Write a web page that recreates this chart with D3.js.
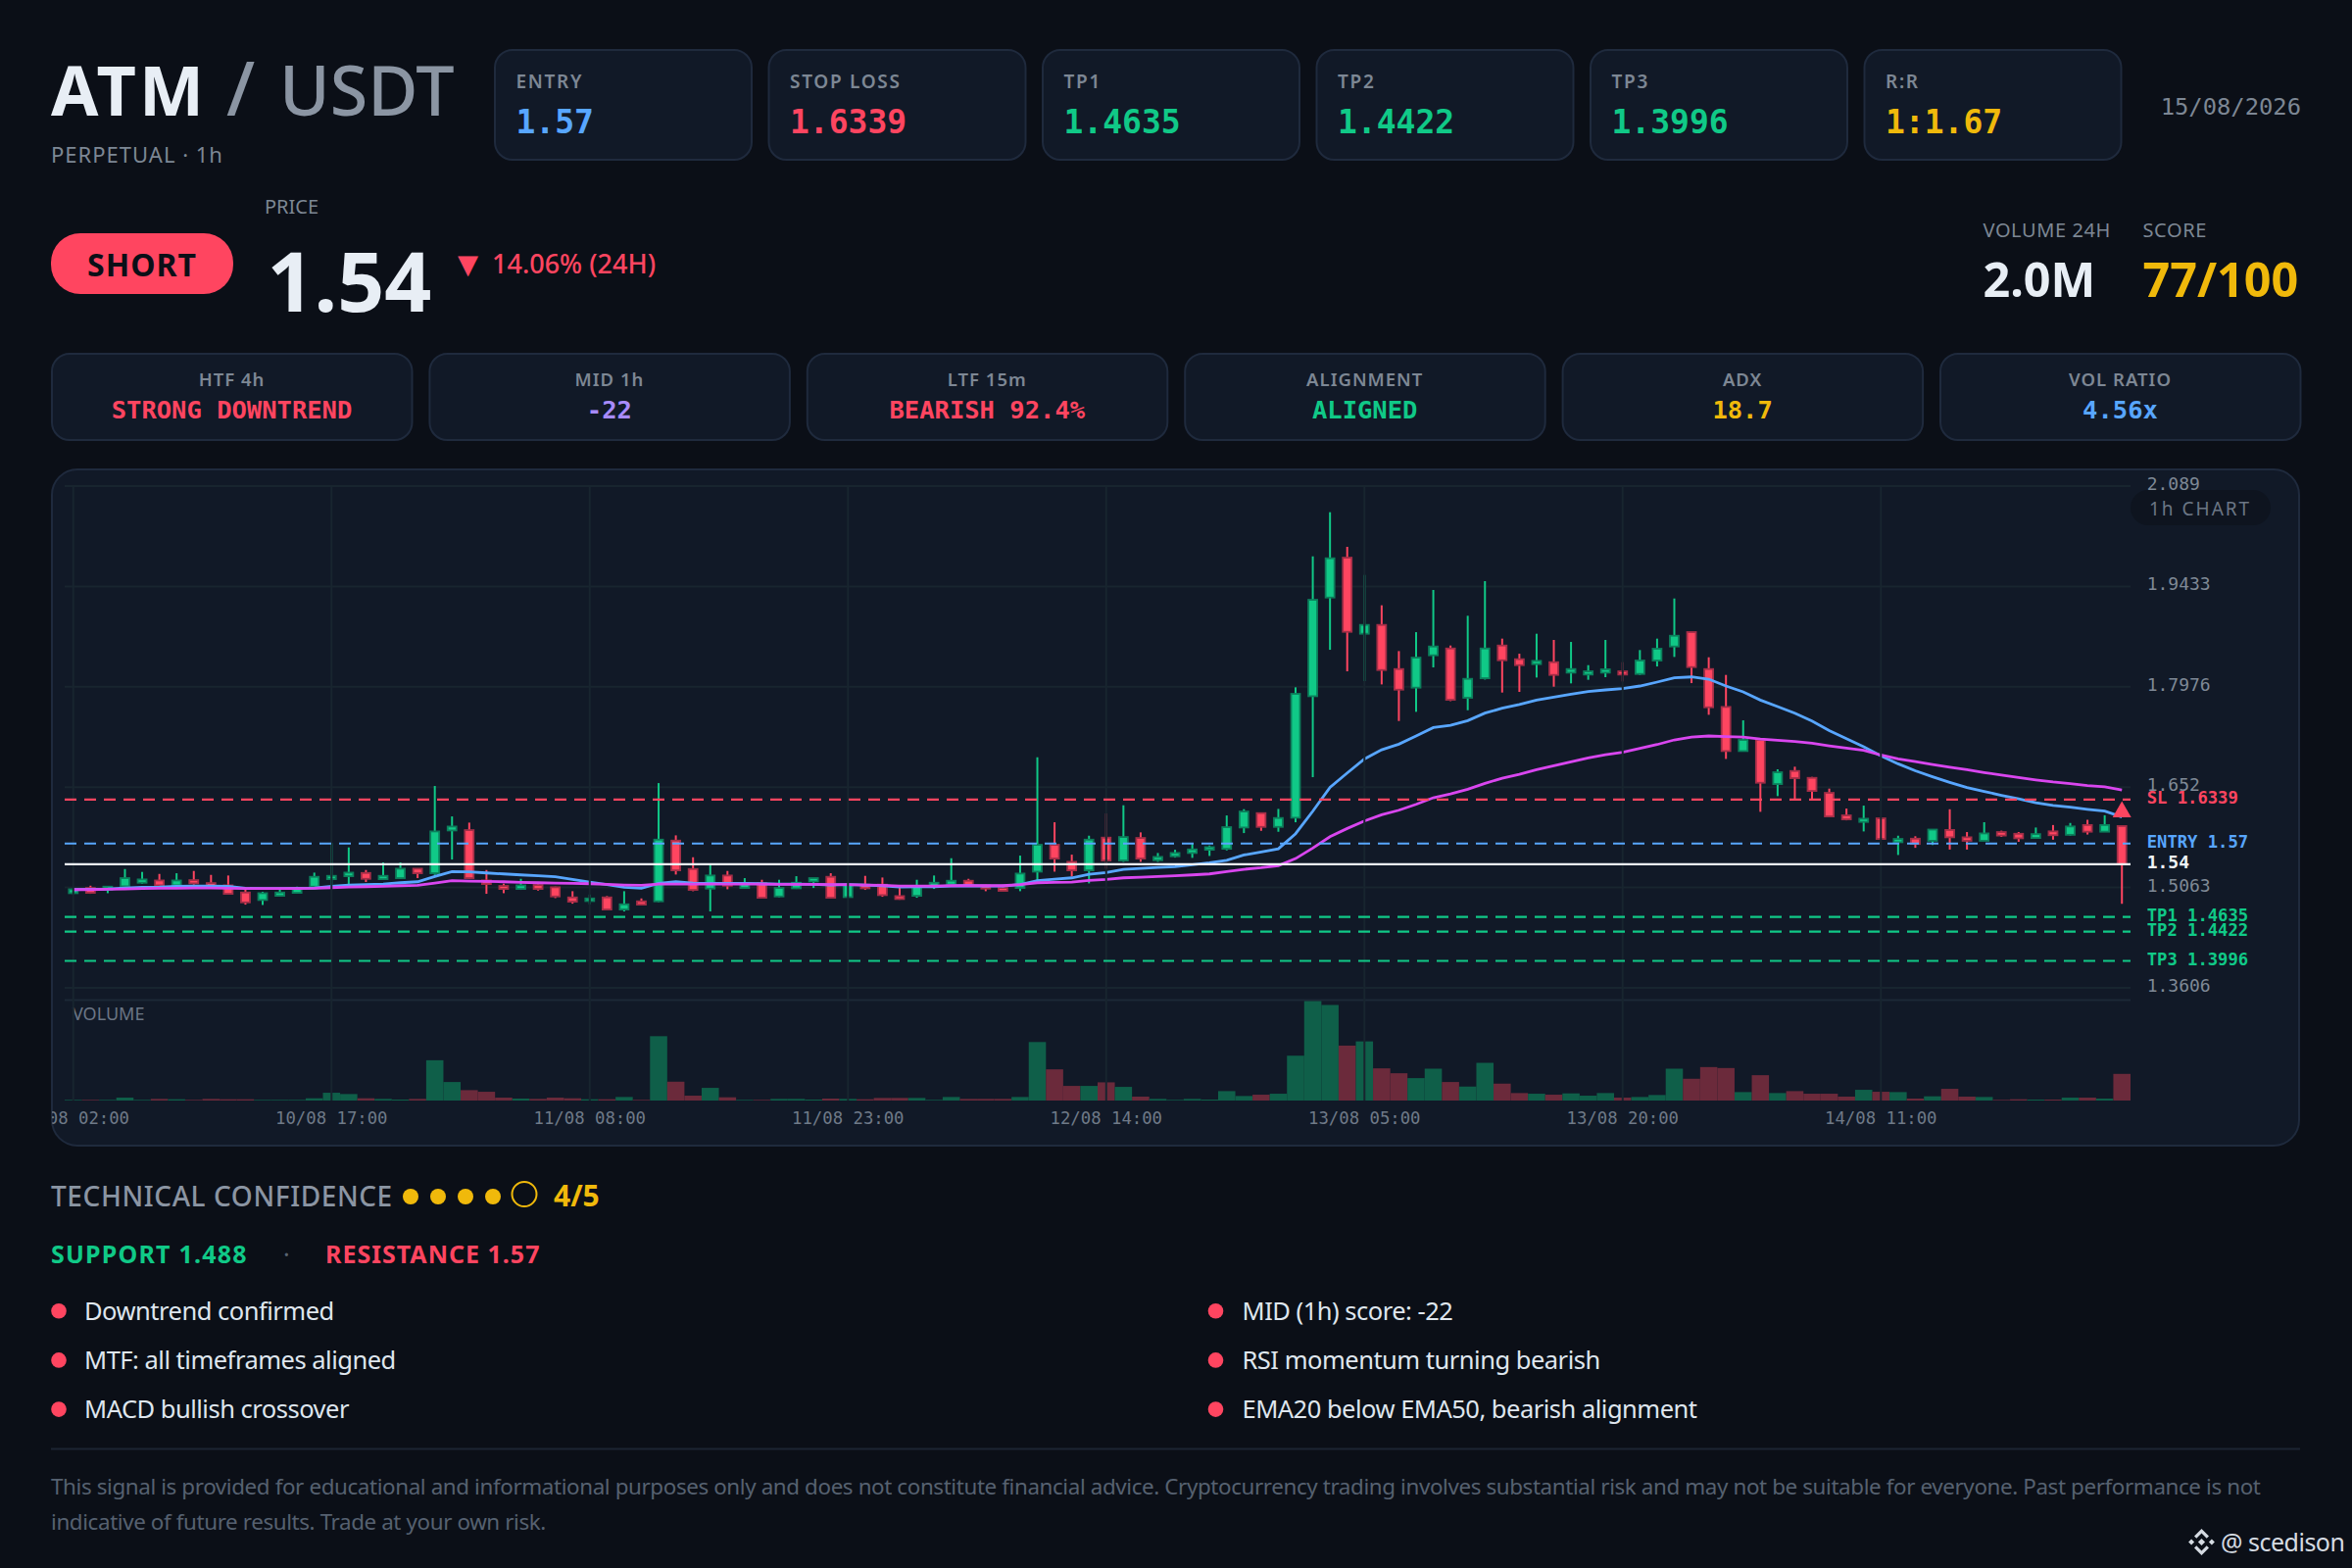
<!DOCTYPE html>
<html>
<head>
<meta charset="utf-8">
<title>ATM / USDT</title>
<script src="https://cdn.jsdelivr.net/npm/d3@7"></script>
<style>
  html, body { margin: 0; padding: 0; background: #0b0f17; }
  svg { display: block; }
</style>
</head>
<body>
<svg id="chart"></svg>
<script>
let opens = [1.4979,1.5055,1.5031,1.5079,1.5131,1.5164,1.5093,1.5169,1.5126,1.5093,1.4989,1.4880,1.4941,1.4984,1.5074,1.5183,1.5226,1.5273,1.5183,1.5198,
  1.5335,1.5269,1.5890,1.5895,1.5164,1.5084,1.5041,1.5098,1.5065,1.4918,1.4865,1.4918,1.4742,1.4861,1.4861,1.5743,1.5330,1.5046,1.5236,1.5055,
  1.5126,1.4932,1.5050,1.5150,1.5217,1.4922,1.5103,1.5103,1.4937,1.4941,1.5074,1.5103,1.5160,1.5093,1.5055,1.5055,1.5292,1.5682,1.5435,1.5311,
  1.5786,1.5454,1.5781,1.5458,1.5515,1.5563,1.5610,1.5624,1.5933,1.6142,1.5942,1.6075,1.7840,1.9273,1.9852,1.8747,1.8875,1.8234,1.7964,1.8434,
  1.8533,1.7817,1.8101,1.8576,1.8377,1.8306,1.8334,1.8182,1.8154,1.8182,1.8201,1.8163,1.8358,1.8562,1.8771,1.8234,1.7684,1.7043,1.7205,1.6564,
  1.6754,1.6654,1.6436,1.6109,1.6014,1.6066,1.5719,1.5771,1.5740,1.5897,1.5791,1.5740,1.5867,1.5842,1.5781,1.5877,1.5827,1.5969,1.5872,1.5954];
let highs = [1.5055,1.5088,1.5084,1.5330,1.5288,1.5259,1.5269,1.5302,1.5245,1.5236,1.5031,1.5000,1.5055,1.5074,1.5278,1.5710,1.5644,1.5316,1.5425,1.5425,
  1.5335,1.6536,1.6094,1.6004,1.5316,1.5117,1.5188,1.5122,1.5074,1.5008,1.4960,1.4937,1.5008,1.4903,1.6578,1.5819,1.5501,1.5397,1.5302,1.5198,
  1.5174,1.5174,1.5226,1.5198,1.5269,1.5112,1.5231,1.5207,1.5055,1.5174,1.5236,1.5487,1.5188,1.5103,1.5103,1.5525,1.6953,1.6009,1.5539,1.5814,
  1.6137,1.6256,1.5862,1.5563,1.5610,1.5696,1.5672,1.6108,1.6199,1.6142,1.6203,1.7969,1.9871,2.0512,2.0009,1.9601,1.9160,1.8495,1.8770,1.9383,
  1.8576,1.9008,1.9511,1.8676,1.8457,1.8747,1.8657,1.8628,1.8291,1.8657,1.8334,1.8510,1.8676,1.9259,1.8771,1.8405,1.8149,1.7489,1.7205,1.6778,
  1.6816,1.6668,1.6498,1.6208,1.6251,1.6066,1.5814,1.5806,1.5903,1.6198,1.5867,1.6010,1.5887,1.5867,1.5933,1.5969,1.5999,1.6045,1.6111,1.5954];
let lows = [1.4960,1.4970,1.4979,1.5055,1.5117,1.5079,1.5079,1.5103,1.5055,1.4970,1.4813,1.4808,1.4937,1.4979,1.5055,1.5055,1.5103,1.5141,1.5174,1.5188,
  1.5198,1.5245,1.5468,1.5188,1.4970,1.4979,1.5027,1.5017,1.4908,1.4827,1.4818,1.4742,1.4714,1.4813,1.4851,1.5250,1.5008,1.4714,1.5036,1.5046,
  1.4913,1.4922,1.5041,1.5055,1.4913,1.4913,1.5027,1.4927,1.4884,1.4913,1.5041,1.5093,1.5074,1.5008,1.5013,1.5008,1.5150,1.5292,1.5221,1.5122,
  1.5335,1.5435,1.5435,1.5435,1.5496,1.5492,1.5520,1.5601,1.5852,1.5885,1.5871,1.6009,1.6664,1.8514,1.8201,1.8059,1.8011,1.7480,1.7613,1.8258,
  1.7769,1.7636,1.8082,1.7893,1.7902,1.8111,1.7978,1.8026,1.8078,1.8116,1.8054,1.8149,1.8272,1.8410,1.8030,1.7570,1.6929,1.7039,1.6161,1.6389,
  1.6346,1.6346,1.6094,1.6037,1.5876,1.5767,1.5534,1.5638,1.5679,1.5613,1.5613,1.5740,1.5796,1.5725,1.5781,1.5756,1.5816,1.5831,1.5872,1.4825];
let closes = [1.5036,1.4984,1.5074,1.5198,1.5179,1.5093,1.5164,1.5122,1.5074,1.4970,1.4846,1.4979,1.4989,1.5055,1.5217,1.5231,1.5278,1.5188,1.5231,1.5335,
  1.5269,1.5876,1.5947,1.5198,1.5112,1.5041,1.5093,1.5041,1.4932,1.4856,1.4903,1.4742,1.4818,1.4813,1.5757,1.5311,1.5027,1.5236,1.5088,1.5126,
  1.4913,1.5055,1.5131,1.5198,1.4913,1.5103,1.5050,1.4951,1.4894,1.5074,1.5131,1.5160,1.5084,1.5046,1.5013,1.5264,1.5682,1.5482,1.5311,1.5757,
  1.5454,1.5795,1.5482,1.5506,1.5563,1.5615,1.5648,1.5938,1.6165,1.5942,1.6071,1.7874,1.9240,1.9843,1.8775,1.8875,1.8220,1.7935,1.8400,1.8562,
  1.7788,1.8092,1.8533,1.8362,1.8291,1.8353,1.8149,1.8234,1.8201,1.8230,1.8154,1.8358,1.8529,1.8718,1.8263,1.7679,1.7043,1.7205,1.6583,1.6735,
  1.6650,1.6464,1.6094,1.6052,1.6061,1.5767,1.5767,1.5694,1.5903,1.5791,1.5740,1.5847,1.5816,1.5776,1.5837,1.5821,1.5948,1.5872,1.5969,1.5400];
let volumes = [2,2,2,9,2,5,4,2,5,4,4,2,2,2,7,24,20,7,5,3,
  5,124,57,32,27,9,6,5,9,7,4,4,11,2,198,58,15,39,10,2,
  2,5,5,3,6,5,4,8,8,8,2,11,5,5,5,11,180,96,45,45,
  56,42,12,5,2,5,3,29,14,18,21,138,306,294,169,182,99,84,69,98,
  57,43,116,52,23,21,18,22,15,23,9,11,17,98,67,103,100,26,78,23,
  29,21,21,12,33,27,26,6,13,36,12,11,2,4,3,3,9,9,6,82];
let ema20 = [1.5031,1.5036,1.5041,1.5055,1.5065,1.5069,1.5079,1.5084,1.5084,1.5079,1.5050,1.5046,1.5046,1.5050,1.5055,1.5079,1.5098,1.5103,1.5112,1.5131,
  1.5145,1.5221,1.5292,1.5288,1.5273,1.5259,1.5245,1.5231,1.5217,1.5179,1.5141,1.5103,1.5065,1.5050,1.5122,1.5145,1.5126,1.5122,1.5122,1.5122,
  1.5117,1.5112,1.5112,1.5107,1.5098,1.5103,1.5098,1.5088,1.5069,1.5074,1.5074,1.5084,1.5088,1.5084,1.5084,1.5103,1.5160,1.5183,1.5202,1.5254,
  1.5278,1.5326,1.5340,1.5354,1.5364,1.5392,1.5420,1.5458,1.5534,1.5577,1.5624,1.5843,1.6170,1.6517,1.6725,1.6929,1.7062,1.7143,1.7262,1.7385,
  1.7418,1.7485,1.7594,1.7665,1.7720,1.7784,1.7826,1.7869,1.7907,1.7931,1.7950,1.7988,1.8045,1.8106,1.8120,1.8087,1.7988,1.7902,1.7784,1.7689,
  1.7594,1.7480,1.7342,1.7224,1.7105,1.6975,1.6858,1.6757,1.6670,1.6589,1.6513,1.6457,1.6401,1.6350,1.6294,1.6253,1.6228,1.6198,1.6172,1.6086];
let ema50 = [1.5031,1.5031,1.5036,1.5041,1.5046,1.5050,1.5050,1.5055,1.5055,1.5050,1.5046,1.5046,1.5046,1.5046,1.5050,1.5060,1.5069,1.5074,1.5079,1.5088,
  1.5093,1.5126,1.5160,1.5155,1.5150,1.5145,1.5136,1.5131,1.5126,1.5122,1.5117,1.5107,1.5098,1.5093,1.5112,1.5112,1.5112,1.5112,1.5112,1.5112,
  1.5112,1.5107,1.5107,1.5107,1.5103,1.5103,1.5098,1.5093,1.5084,1.5084,1.5084,1.5088,1.5088,1.5088,1.5088,1.5103,1.5131,1.5136,1.5141,1.5164,
  1.5179,1.5202,1.5212,1.5221,1.5231,1.5245,1.5259,1.5292,1.5326,1.5349,1.5378,1.5482,1.5634,1.5800,1.5919,1.6028,1.6118,1.6184,1.6270,1.6365,
  1.6422,1.6488,1.6573,1.6649,1.6706,1.6773,1.6830,1.6887,1.6944,1.6991,1.7024,1.7081,1.7138,1.7205,1.7247,1.7262,1.7252,1.7247,1.7219,1.7200,
  1.7181,1.7157,1.7119,1.7086,1.7053,1.6985,1.6930,1.6889,1.6848,1.6808,1.6772,1.6731,1.6695,1.6660,1.6625,1.6594,1.6569,1.6543,1.6523,1.6477];

let priceTicks = [2.089, 1.9433, 1.7976, 1.652, 1.5063, 1.3606];
let timeTickIndex = [0, 15, 30, 45, 60, 75, 90, 105];
let timeTickLabels = ["10/08 02:00", "10/08 17:00", "11/08 08:00", "11/08 23:00", "12/08 14:00", "13/08 05:00", "13/08 20:00", "14/08 11:00"];

let levelNames = ["SL 1.6339", "ENTRY 1.57", "TP1 1.4635", "TP2 1.4422", "TP3 1.3996"];
let levelPrices = [1.6339, 1.57, 1.4635, 1.4422, 1.3996];
let levelColors = ["#ff4560", "#58a6ff", "#10c987", "#10c987", "#10c987"];
let lastPrice = 1.54;

let signalLabels = ["ENTRY", "STOP LOSS", "TP1", "TP2", "TP3", "R:R"];
let signalValues = ["1.57", "1.6339", "1.4635", "1.4422", "1.3996", "1:1.67"];
let signalColors = ["#58a6ff", "#ff4560", "#10c987", "#10c987", "#10c987", "#f0b90b"];

let frameLabels = ["HTF 4h", "MID 1h", "LTF 15m", "ALIGNMENT", "ADX", "VOL RATIO"];
let frameValues = ["STRONG DOWNTREND", "-22", "BEARISH 92.4%", "ALIGNED", "18.7", "4.56x"];
let frameColors = ["#ff4560", "#a78bfa", "#ff4560", "#10c987", "#f0b90b", "#58a6ff"];

let confidenceDots = [1, 1, 1, 1, 0];
let reasonsLeft = ["Downtrend confirmed", "MTF: all timeframes aligned", "MACD bullish crossover"];
let reasonsRight = ["MID (1h) score: -22", "RSI momentum turning bearish", "EMA20 below EMA50, bearish alignment"];
let disclaimer = [
  "This signal is provided for educational and informational purposes only and does not constitute financial advice. Cryptocurrency trading involves substantial risk and may not be suitable for everyone. Past performance is not",
  "indicative of future results. Trade at your own risk."
];

let width = 2400;
let height = 1600;

let sans = "'Noto Sans', 'Open Sans', sans-serif";
let mono = "'DejaVu Sans Mono', monospace";
let green = "#10c987";
let red = "#ff4560";
let blue = "#58a6ff";
let magenta = "#d946ef";
let amber = "#f0b90b";
let muted = "#7d8794";
let faint = "#6b7685";
let white = "#e8eef5";
let cardFill = "#111927";
let cardStroke = "#1f2a3d";
let gridColor = "#18252f";

let svg = d3.select("#chart").attr("width", width).attr("height", height);
svg.append("rect").attr("width", width).attr("height", height).attr("fill", "#0b0f17");

let addText = (parent, x, y, str, o) => {
  return parent
    .append("text")
    .attr("x", x)
    .attr("y", y)
    .attr("fill", o.fill)
    .attr("text-anchor", o.anchor || "start")
    .style("font-family", o.family || sans)
    .style("font-size", o.size + "px")
    .style("font-weight", o.weight || 400)
    .style("letter-spacing", (o.ls || 0) + "px")
    .text(str);
};

let addCard = (x, y, w, h, r) => {
  return svg
    .append("rect")
    .attr("x", x)
    .attr("y", y)
    .attr("width", w)
    .attr("height", h)
    .attr("rx", r)
    .attr("fill", cardFill)
    .attr("stroke", cardStroke)
    .attr("stroke-width", 2);
};

let drawHeader = () => {
  addText(svg, 52, 118, "ATM", { size: 70, weight: 700, fill: white, ls: 3 });
  addText(svg, 231, 118, "/", { size: 76, weight: 500, fill: "#8b95a3" });
  addText(svg, 285, 118, "USDT", { size: 70, weight: 500, fill: "#8b95a3" });
  addText(svg, 52, 165.5, "PERPETUAL · 1h", { size: 22, fill: muted, ls: 1 });

  signalLabels.forEach((label, i) => {
    let x = 505 + 279.5 * i;
    addCard(x, 51, 262, 112, 18);
    addText(svg, x + 21.5, 90, label, { size: 19, weight: 600, fill: muted, ls: 1.7 });
    addText(svg, x + 21.5, 136, signalValues[i], { size: 33, weight: 700, fill: signalColors[i], family: mono });
  });
  addText(svg, 2348, 116.5, "15/08/2026", { size: 23.8, fill: muted, family: mono, anchor: "end" });

  addText(svg, 270, 217.5, "PRICE", { size: 20, fill: muted });
  svg.append("rect").attr("x", 52).attr("y", 238).attr("width", 186).attr("height", 62).attr("rx", 30).attr("fill", red);
  addText(svg, 145, 282, "SHORT", { size: 32, weight: 700, fill: "#0b0f17", anchor: "middle", ls: 1 });
  addText(svg, 272.5, 317.5, "1.54", { size: 84, weight: 700, fill: white });
  addText(svg, 467, 281, "▼", { size: 35, fill: red, family: mono });
  addText(svg, 502, 279, "14.06% (24H)", { size: 27, weight: 500, fill: red });

  addText(svg, 2023.5, 241.5, "VOLUME 24H", { size: 20, fill: muted, ls: 0.6 });
  addText(svg, 2186.5, 241.5, "SCORE", { size: 20, fill: muted, ls: 0.6 });
  addText(svg, 2023.5, 303, "2.0M", { size: 48.5, weight: 700, fill: white });
  addText(svg, 2186.5, 303, "77/100", { size: 48.5, weight: 700, fill: amber });

  frameLabels.forEach((label, i) => {
    let x = 52 + 385.4 * i;
    addCard(x + 1, 361, 367.5, 88, 18);
    addText(svg, x + 184.5, 394, label, { size: 18.5, weight: 600, fill: muted, anchor: "middle", ls: 1 });
    addText(svg, x + 184.5, 427, frameValues[i], { size: 25.5, weight: 700, fill: frameColors[i], family: mono, anchor: "middle" });
  });
};

let drawChart = () => {
  addCard(53, 479, 2293, 690, 26);

  let clip = svg.append("defs").append("clipPath").attr("id", "card-clip");
  clip.append("rect").attr("x", 53).attr("y", 479).attr("width", 2293).attr("height", 690).attr("rx", 26);

  let chart = svg.append("g").attr("clip-path", "url(#card-clip)");

  let xScale = d3.scaleBand().domain(d3.range(closes.length)).range([66, 2174]);
  let yScale = d3.scaleLinear().domain([2.089, 1.3606]).range([496.1, 1007.9]);
  let volScale = d3.scaleLinear().domain([0, d3.max(volumes)]).range([1123, 1021.5]);
  let xMid = i => xScale(i) + xScale.bandwidth() / 2;

  chart
    .append("g")
    .selectAll("line")
    .data(priceTicks)
    .enter()
    .append("line")
    .attr("x1", 66)
    .attr("x2", 2174)
    .attr("y1", d => yScale(d))
    .attr("y2", d => yScale(d))
    .attr("stroke", gridColor)
    .attr("stroke-width", 2);

  chart.append("line").attr("x1", 66).attr("x2", 2174).attr("y1", 1020.5).attr("y2", 1020.5).attr("stroke", "#1c2836").attr("stroke-width", 2);

  addText(chart, 74, 1041, "VOLUME", { size: 18, fill: faint });

  chart
    .append("g")
    .selectAll("rect")
    .data(volumes)
    .enter()
    .append("rect")
    .attr("x", (d, i) => xScale(i))
    .attr("width", xScale.bandwidth())
    .attr("y", d => volScale(d))
    .attr("height", d => volScale(0) - volScale(d))
    .attr("fill", (d, i) => (closes[i] >= opens[i] ? "#0f5f49" : "#6b2a3b"));

  let candles = chart.append("g").selectAll("g").data(closes).enter().append("g");

  candles
    .append("line")
    .attr("x1", (d, i) => xMid(i))
    .attr("x2", (d, i) => xMid(i))
    .attr("y1", (d, i) => yScale(highs[i]))
    .attr("y2", (d, i) => yScale(lows[i]))
    .attr("stroke", (d, i) => (d >= opens[i] ? green : red))
    .attr("stroke-width", 2);

  candles
    .append("rect")
    .attr("x", (d, i) => xMid(i) - 4.5)
    .attr("width", 9)
    .attr("y", (d, i) => yScale(Math.max(d, opens[i])))
    .attr("height", (d, i) => Math.abs(yScale(d) - yScale(opens[i])))
    .attr("fill", (d, i) => (d >= opens[i] ? green : red))
    .attr("stroke", (d, i) => (d >= opens[i] ? "#0c7f5c" : "#a32e47"))
    .attr("stroke-width", 1.8);

  let line = d3
    .line()
    .x((d, i) => xMid(i))
    .y(d => yScale(d));

  chart.append("path").datum(ema20).attr("d", line).attr("fill", "none").attr("stroke", blue).attr("stroke-width", 2.8);
  chart.append("path").datum(ema50).attr("d", line).attr("fill", "none").attr("stroke", magenta).attr("stroke-width", 2.8);

  // the time grid sits on top of the candles, same as in the source picture
  chart
    .append("g")
    .selectAll("line")
    .data(timeTickIndex)
    .enter()
    .append("line")
    .attr("x1", d => xMid(d))
    .attr("x2", d => xMid(d))
    .attr("y1", 497)
    .attr("y2", 1123)
    .attr("stroke", gridColor)
    .attr("stroke-width", 2);

  chart
    .append("g")
    .selectAll("line")
    .data(levelPrices)
    .enter()
    .append("line")
    .attr("x1", 66)
    .attr("x2", 2174)
    .attr("y1", d => yScale(d))
    .attr("y2", d => yScale(d))
    .attr("stroke", (d, i) => levelColors[i])
    .attr("stroke-width", 2.2)
    .attr("stroke-dasharray", "12,8");

  chart
    .append("line")
    .attr("x1", 66)
    .attr("x2", 2174)
    .attr("y1", yScale(lastPrice))
    .attr("y2", yScale(lastPrice))
    .attr("stroke", "#f0f4f8")
    .attr("stroke-width", 2.2);

  // short entry marker above the last candle
  chart
    .append("path")
    .attr("d", d3.symbol().type(d3.symbolTriangle).size(156)())
    .attr("transform", "translate(" + xMid(closes.length - 1) + "," + (yScale(highs[closes.length - 1]) - 14.5) + ")")
    .attr("fill", red);

  let yAxis = d3
    .axisRight(yScale)
    .tickValues(priceTicks)
    .tickSize(0)
    .tickPadding(16.7)
    .tickFormat(d => String(d));

  let yGroup = chart.append("g").attr("transform", "translate(2174,0)").call(yAxis);
  yGroup.select(".domain").remove();
  yGroup
    .selectAll("text")
    .attr("dy", "3.5px")
    .attr("fill", "#7f8996")
    .style("font-family", mono)
    .style("font-size", "18px");

  let xAxis = d3
    .axisBottom(xScale)
    .tickValues(timeTickIndex)
    .tickSize(0)
    .tickPadding(0)
    .tickFormat((d, i) => timeTickLabels[i]);

  let xGroup = chart.append("g").attr("transform", "translate(0,1134.5)").call(xAxis);
  xGroup.select(".domain").remove();
  xGroup
    .selectAll("text")
    .attr("fill", "#6f7a88")
    .style("font-family", mono)
    .style("font-size", "17.3px");

  levelNames.forEach((name, i) => {
    addText(chart, 2190.7, yScale(levelPrices[i]) + 4.2, name, { size: 17.2, weight: 700, fill: levelColors[i], family: mono });
  });
  addText(chart, 2190.7, yScale(lastPrice) + 4.2, String(lastPrice), { size: 18, weight: 700, fill: "#f0f4f8", family: mono });

  chart.append("rect").attr("x", 2174).attr("y", 500).attr("width", 143).attr("height", 36).attr("rx", 18).attr("fill", "#0b0f17").attr("fill-opacity", 0.45);
  addText(chart, 2193, 526, "1h CHART", { size: 19, fill: faint, ls: 2 });
};

let drawNotes = () => {
  addText(svg, 52, 1231, "TECHNICAL CONFIDENCE", { size: 28, weight: 500, fill: "#8b95a3", ls: 0.6 });

  svg
    .append("g")
    .selectAll("circle")
    .data(confidenceDots)
    .enter()
    .append("circle")
    .attr("cx", (d, i) => (d ? 419 + 28 * i : 535))
    .attr("cy", d => (d ? 1221 : 1218.5))
    .attr("r", d => (d ? 8 : 12.5))
    .attr("fill", d => (d ? amber : "none"))
    .attr("stroke", d => (d ? "none" : amber))
    .attr("stroke-width", 2);

  addText(svg, 565, 1231, "4/5", { size: 30, weight: 700, fill: amber });
  addText(svg, 52, 1289, "SUPPORT 1.488", { size: 25, weight: 700, fill: green, ls: 1.2 });
  addText(svg, 289, 1289, "·", { size: 25, fill: "#5a6472" });
  addText(svg, 332, 1289, "RESISTANCE 1.57", { size: 25, weight: 700, fill: red, ls: 1 });

  let drawReasons = (items, dotX, textX) => {
    items.forEach((str, i) => {
      svg.append("circle").attr("cx", dotX).attr("cy", 1337.7 + 50.2 * i).attr("r", 7.8).attr("fill", red);
      addText(svg, textX, 1346.7 + 50.2 * i, str, { size: 25.5, fill: "#dfe6ee", ls: -0.5 });
    });
  };
  drawReasons(reasonsLeft, 60, 86);
  drawReasons(reasonsRight, 1240.5, 1267.5);

  svg.append("line").attr("x1", 52).attr("x2", 2347).attr("y1", 1478.5).attr("y2", 1478.5).attr("stroke", "#1c2533").attr("stroke-width", 2);

  disclaimer.forEach((str, i) => {
    addText(svg, 52, 1525 + 36 * i, str, { size: 22.4, fill: "#566170", ls: -0.39 });
  });

  // little exchange logo next to the handle
  let logo = svg.append("g").attr("transform", "translate(2246.5,1573.5)").attr("fill", "#d5dbe2");
  let diamond = (cx, cy, r) => "M" + (cx - r) + "," + cy + "L" + cx + "," + (cy - r) + "L" + (cx + r) + "," + cy + "L" + cx + "," + (cy + r) + "Z";
  logo.append("path").attr("d", diamond(0, 0, 3.6) + diamond(-10.4, 0, 3) + diamond(10.4, 0, 3));
  logo.append("path").attr("d", "M0,-13.5L7.5,-6L5.2,-3.7L0,-8.9L-5.2,-3.7L-7.5,-6Z");
  logo.append("path").attr("d", "M0,13.5L7.5,6L5.2,3.7L0,8.9L-5.2,3.7L-7.5,6Z");
  addText(svg, 2266, 1582.5, "@ scedison", { size: 25, fill: "#d5dbe2", ls: -0.5 });
};

drawHeader();
drawChart();
drawNotes();
</script>
</body>
</html>
